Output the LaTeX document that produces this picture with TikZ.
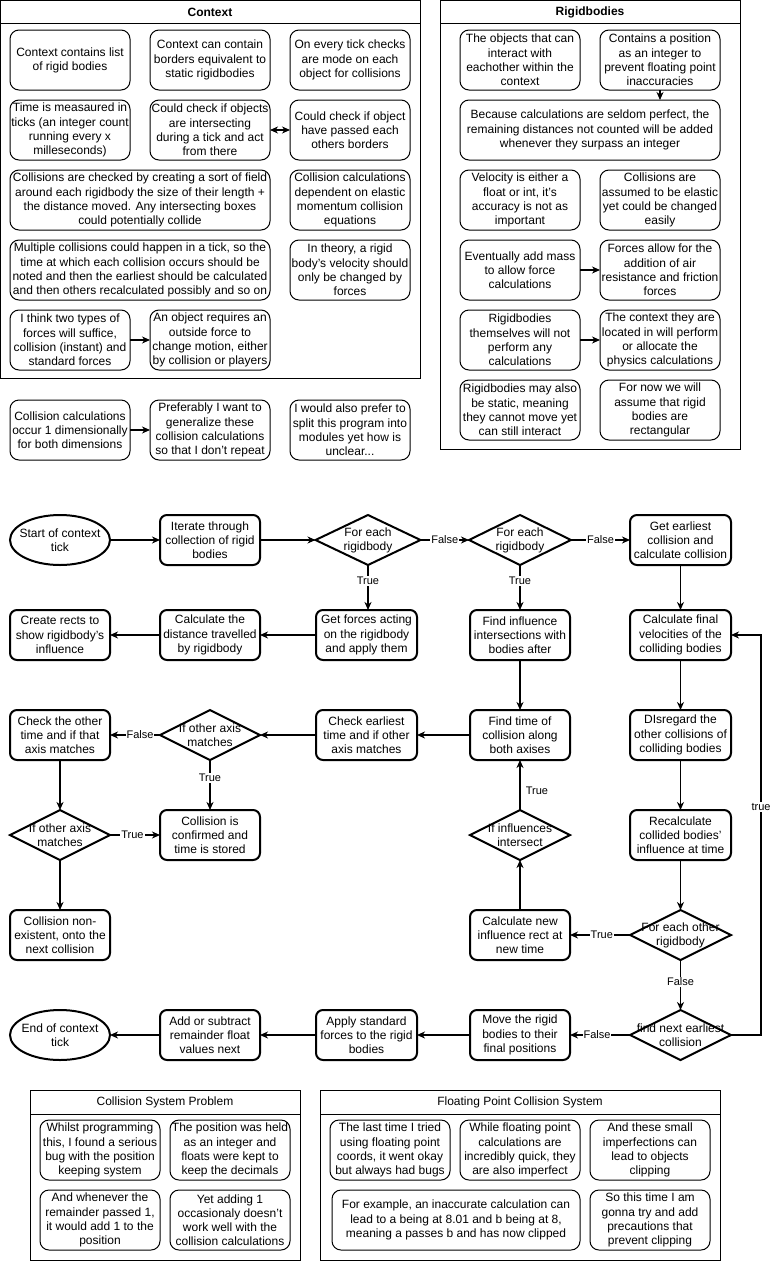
\documentclass[tikz,border=0pt]{standalone}
\usepackage{fontspec}
\setmainfont{Liberation Sans}
\usetikzlibrary{shapes.geometric,arrows.meta}
\newcommand{\fs}{\fontsize{12}{14.2}\selectfont}
\newcommand{\bx}[7]{%
  \node[#1, minimum width={(#5-#3)*1pt}, minimum height={(#6-#4)*1pt}] (#2) at ({(#3+#5)/2},{(#4+#6)/2}) {};
  \node[txt] (#2-t) at (#2.center) {#7};
}
\tikzset{
  every node/.style={inner sep=0pt, outer sep=0pt},
  txt/.style={align=center, font=\fs},
  note/.style={draw, rounded corners=9pt, line width=1pt},
  fbox/.style={draw, rounded corners=7pt, line width=2pt},
  fdia/.style={draw, diamond, line width=2pt},
  fell/.style={draw, ellipse, line width=2pt},
  cont/.style={draw, line width=1pt},
  title/.style={font=\fs},
  arr/.style={-{Stealth[length=8pt,width=7pt,inset=2.5pt]}, line width=1.1pt},
  farr/.style={-{Stealth[length=8pt,width=7pt,inset=2.5pt]}, line width=1.4pt},
  darr/.style={{Stealth[length=8pt,width=7pt,inset=2.5pt]}-{Stealth[length=8pt,width=7pt,inset=2.5pt]}, line width=1.1pt},
  lbl/.style={fill=white, inner sep=1pt, font=\fontsize{11}{13}\selectfont},
}
\begin{document}
\begin{tikzpicture}[x=1pt,y=-1pt]
\useasboundingbox (0,0) rectangle (774,1261);
% ---------------- Context container
\draw[cont] (0.5,0.5) rectangle (420,378);
\draw[cont] (0.5,23) -- (420,23);
\node[title] (ctx-title) at (210,12) {\bfseries Context};
\bx{note}{c1}{10}{30}{130}{90}{Context contains list\\of rigid bodies}
\bx{note}{c2}{150}{30}{270}{90}{Context can contain\\borders equivalent to\\static rigidbodies}
\bx{note}{c3}{290}{30}{410}{90}{On every tick checks\\are mode on each\\object for collisions}
\bx{note}{c4}{10}{100}{130}{160}{Time is measaured in\\ticks (an integer count\\running every x\\milleseconds)}
\bx{note}{c5}{150}{100}{270}{160}{Could check if objects\\are intersecting\\during a tick and act\\from there}
\bx{note}{c6}{290}{100}{410}{160}{Could check if object\\have passed each\\others borders}
\bx{note}{c7}{10}{170}{270}{230}{Collisions are checked by creating a sort of field\\around each rigidbody the size of their length +\\the distance moved. Any intersecting boxes\\could potentially collide}
\bx{note}{c8}{290}{170}{410}{230}{Collision calculations\\dependent on elastic\\momentum collision\\equations}
\bx{note}{c9}{10}{240}{270}{300}{Multiple collisions could happen in a tick, so the\\time at which each collision occurs should be\\noted and then the earliest should be calculated\\and then others recalculated possibly and so on}
\bx{note}{c10}{290}{240}{410}{300}{In theory, a rigid\\body's velocity should\\only be changed by\\forces}
\bx{note}{c11}{10}{310}{130}{370}{I think two types of\\forces will suffice,\\collision (instant) and\\standard forces}
\bx{note}{c12}{150}{310}{270}{370}{An object requires an\\outside force to\\change motion, either\\by collision or players}
\draw[darr] (c5.east) -- (c6.west);
\draw[arr] (c11.east) -- (c12.west);
% ---------------- Rigidbodies container
\draw[cont] (440.5,0.5) rectangle (740,449);
\draw[cont] (440.5,23) -- (740,23);
\node[title] (rb-title) at (590,12) {\bfseries Rigidbodies};
\bx{note}{r1}{460}{30}{580}{90}{The objects that can\\interact with\\eachother within the\\context}
\bx{note}{r2}{600}{30}{720}{90}{Contains a position\\as an integer to\\prevent floating point\\inaccuracies}
\bx{note}{r3}{460}{100}{720}{160}{Because calculations are seldom perfect, the\\remaining distances not counted will be added\\whenever they surpass an integer}
\bx{note}{r4}{460}{170}{580}{230}{Velocity is either a\\float or int, it's\\accuracy is not as\\important}
\bx{note}{r5}{600}{170}{720}{230}{Collisions are\\assumed to be elastic\\yet could be changed\\easily}
\bx{note}{r6}{460}{240}{580}{300}{Eventually add mass\\to allow force\\calculations}
\bx{note}{r7}{600}{240}{720}{300}{Forces allow for the\\addition of air\\resistance and friction\\forces}
\bx{note}{r8}{460}{310}{580}{370}{Rigidbodies\\themselves will not\\perform any\\calculations}
\bx{note}{r9}{600}{310}{720}{370}{The context they are\\located in will perform\\or allocate the\\physics calculations}
\bx{note}{r10}{460}{380}{580}{440}{Rigidbodies may also\\be static, meaning\\they cannot move yet\\can still interact}
\bx{note}{r11}{600}{380}{720}{440}{For now we will\\assume that rigid\\bodies are\\rectangular}
\draw[arr] (r2.south) -- (r3.north -| r2.south);
\draw[arr] (r6.east) -- (r7.west);
\draw[arr] (r8.east) -- (r9.west);
% ---------------- loose notes
\bx{note}{l1}{10}{400}{130}{460}{Collision calculations\\occur 1 dimensionally\\for both dimensions}
\bx{note}{l2}{150}{400}{270}{460}{Preferably I want to\\generalize these\\collision calculations\\so that I don't repeat}
\bx{note}{l3}{290}{400}{410}{460}{I would also prefer to\\split this program into\\modules yet how is\\unclear...}
\draw[arr] (l1.east) -- (l2.west);
% ---------------- flowchart
\bx{fell}{st}{10}{515}{110}{565}{Start of context\\tick}
\bx{fbox}{it}{160}{515}{260}{565}{Iterate through\\collection of rigid\\bodies}
\bx{fdia}{d1}{315.5}{515}{420.5}{565}{For each\\rigidbody}
\bx{fdia}{d2}{469}{515}{571}{565}{For each\\rigidbody}
\bx{fbox}{ge}{630}{515}{731}{565}{Get earliest\\collision and\\calculate collision}
\bx{fbox}{cr}{10}{610}{110}{660}{Create rects to\\show rigidbody's\\influence}
\bx{fbox}{cd}{160}{610}{260}{660}{Calculate the\\distance travelled\\by rigidbody}
\bx{fbox}{gf}{316}{610}{417}{660}{Get forces acting\\on the rigidbody\\and apply them}
\bx{fbox}{fi}{470}{610}{570}{660}{Find influence\\intersections with\\bodies after}
\bx{fbox}{cf}{630}{610}{731}{660}{Calculate final\\velocities of the\\colliding bodies}
\bx{fbox}{co}{10}{710}{110}{760}{Check the other\\time and if that\\axis matches}
\bx{fdia}{da}{160}{710}{260}{760}{If other axis\\matches}
\bx{fbox}{ce}{316}{710}{417}{760}{Check earliest\\time and if other\\axis matches}
\bx{fbox}{ft}{470}{710}{570}{760}{Find time of\\collision along\\both axises}
\bx{fbox}{dr}{630}{710}{731}{760}{DIsregard the\\other collisions of\\colliding bodies}
\bx{fdia}{db}{10}{810}{110}{860}{If other axis\\matches}
\bx{fbox}{cc}{160}{810}{260}{860}{Collision is\\confirmed and\\time is stored}
\bx{fdia}{di}{470}{810}{570}{860}{If influences\\intersect}
\bx{fbox}{rc}{630}{810}{731}{860}{Recalculate\\collided bodies'\\influence at time}
\bx{fbox}{cn}{10}{910}{110}{960}{Collision non-\\existent, onto the\\next collision}
\bx{fbox}{ni}{470}{910}{570}{960}{Calculate new\\influence rect at\\new time}
\bx{fdia}{dfo}{630}{910}{731}{960}{For each other\\rigidbody}
\bx{fell}{en}{10}{1010}{110}{1060}{End of context\\tick}
\bx{fbox}{ad}{160}{1010}{260}{1060}{Add or subtract\\remainder float\\values next}
\bx{fbox}{ap}{316}{1010}{417}{1060}{Apply standard\\forces to the rigid\\bodies}
\bx{fbox}{mv}{470}{1010}{570}{1060}{Move the rigid\\bodies to their\\final positions}
\bx{fdia}{dne}{630}{1010}{731}{1060}{find next earliest\\collision}
% connectors
\draw[farr] (st.east) -- (it.west);
\draw[farr] (it.east) -- (d1.west);
\draw[farr] (d1.east) -- node[lbl] (lf1) {False} (d2.west);
\draw[farr] (d2.east) -- node[lbl] (lf2) {False} (ge.west);
\draw[farr] (d1.south) -- node[lbl, pos=0.36] (lt1) {True} (d1.south |- gf.north);
\draw[farr] (d2.south) -- node[lbl, pos=0.36] (lt2) {True} (d2.south |- fi.north);
\draw[farr] (ge.south) -- (cf.north);
\draw[farr] (gf.west) -- (cd.east);
\draw[farr] (cd.west) -- (cr.east);
\draw[farr] (fi.south) -- (ft.north);
\draw[farr] (ft.west) -- (ce.east);
\draw[farr] (ce.west) -- (da.east);
\draw[farr] (da.west) -- node[lbl, pos=0.4] (lf3) {False} (co.east);
\draw[farr] (da.south) -- node[lbl, pos=0.36] (lt3) {True} (cc.north);
\draw[farr] (co.south) -- (db.north);
\draw[farr] (db.east) -- node[lbl, pos=0.45] (lt4) {True} (cc.west);
\draw[farr] (db.south) -- (cn.north);
\draw[farr] (cf.south) -- (dr.north);
\draw[farr] (dr.south) -- (rc.north);
\draw[farr] (rc.south) -- (dfo.north);
\draw[farr] (dfo.west) -- node[lbl, pos=0.47] (lt5) {True} (ni.east);
\draw[farr] (ni.north) -- (di.south);
\draw[farr] (di.north) -- (ft.south);
\node[lbl, fill=none] (lt6) at (537,791) {True};
\draw[farr] (dfo.south) -- node[lbl, pos=0.44] (lf4) {False} (dne.north);
\draw[farr] (dne.west) -- node[lbl, pos=0.55] (lf5) {False} (mv.east);
\coordinate (loopA) at (761,1035);
\coordinate (loopB) at (761,635);
\draw[farr] (dne.east) -- (loopA) -- node[lbl, pos=0.57] (lt7) {true} (loopB) -- (cf.east);
\draw[farr] (mv.west) -- (ap.east);
\draw[farr] (ap.west) -- (ad.east);
\draw[farr] (ad.west) -- (en.east);
% ---------------- Collision System Problem
\draw[cont] (30,1090) rectangle (300,1260);
\draw[cont] (30,1114) -- (300,1114);
\node[title] (csp-title) at (165,1102) {Collision System Problem};
\bx{note}{p1}{40}{1120}{160}{1180}{Whilst programming\\this, I found a serious\\bug with the position\\keeping system}
\bx{note}{p2}{170}{1120}{290}{1180}{The position was held\\as an integer and\\floats were kept to\\keep the decimals}
\bx{note}{p3}{40}{1190}{160}{1250}{And whenever the\\remainder passed 1,\\it would add 1 to the\\position}
\bx{note}{p4}{170}{1190}{290}{1250}{Yet adding 1\\occasionaly doesn't\\work well with the\\collision calculations}
% ---------------- Floating Point Collision System
\draw[cont] (320,1090) rectangle (720,1260);
\draw[cont] (320,1114) -- (720,1114);
\node[title] (fp-title) at (520,1102) {Floating Point Collision System};
\bx{note}{f1}{330}{1120}{450}{1180}{The last time I tried\\using floating point\\coords, it went okay\\but always had bugs}
\bx{note}{f2}{460}{1120}{580}{1180}{While floating point\\calculations are\\incredibly quick, they\\are also imperfect}
\bx{note}{f3}{590}{1120}{710}{1180}{And these small\\imperfections can\\lead to objects\\clipping}
\bx{note}{f4}{332}{1190}{580}{1250}{For example, an inaccurate calculation can\\lead to a being at 8.01 and b being at 8,\\meaning a passes b and has now clipped}
\bx{note}{f5}{590}{1190}{710}{1250}{So this time I am\\gonna try and add\\precautions that\\prevent clipping}
\end{tikzpicture}
\end{document}
